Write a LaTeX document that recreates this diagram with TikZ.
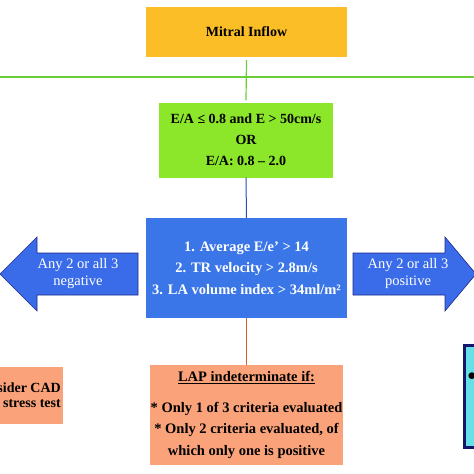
\documentclass[tikz,border=0pt]{standalone}
\usepackage{fontspec}
\setmainfont{Liberation Serif}
\usetikzlibrary{positioning}

\definecolor{mitralorange}{RGB}{251,190,38}
\definecolor{limegreen}{RGB}{140,230,42}
\definecolor{linegreen}{RGB}{105,205,60}
\definecolor{critblue}{RGB}{58,118,232}
\definecolor{arrowblue}{RGB}{58,108,234}
\definecolor{arrowedge}{RGB}{30,40,140}
\definecolor{lineblue}{RGB}{45,75,185}
\definecolor{salmon}{RGB}{250,162,122}
\definecolor{lineorange}{RGB}{215,95,45}
\definecolor{cyanfill}{RGB}{100,224,230}
\definecolor{navyedge}{RGB}{20,22,110}

\tikzset{
  box/.style={inner sep=0pt,align=center,font=\bfseries\fontsize{14}{21}\selectfont},
  bigbox/.style={box,font=\bfseries\fontsize{14.5}{21.5}\selectfont},
  arrowtext/.style={text=white,align=center,font=\fontsize{14.5}{17}\selectfont},
  sidearrow/.style={fill=arrowblue,draw=arrowedge,line width=0.6pt}
}

\begin{document}
\begin{tikzpicture}[x=1pt,y=-1pt]
  \useasboundingbox (0,0) rectangle (474,474);
  \clip (0,0) rectangle (474,474);
  % top: mitral inflow
  \node[box,fill=mitralorange,minimum width=201pt,minimum height=50pt] (mitral) at (246.5,32) {Mitral Inflow};
  \coordinate (gleft) at (0,77);
  \coordinate (gright) at (474,77);
  \draw[linegreen,line width=1.2pt] (gleft) -- (gright);
  % E/A criteria
  \node[box,fill=limegreen,minimum width=174pt,minimum height=75pt] (ea) at (246,140)
    {E/A ≤ 0.8 and E > 50cm/s\\OR\\E/A: 0.8 – 2.0};
  \draw[linegreen,line width=1.2pt] ([yshift=-3pt]mitral.south) -- ([yshift=2pt]ea.north);
  % three criteria
  \node[bigbox,fill=critblue,text=white,minimum width=201pt,minimum height=100pt] (crit) at (246.5,268)
    {1. Average E/e’ > 14\\2. TR velocity > 2.8m/s\\3. LA volume index > 34ml/m²};
  \draw[lineblue,line width=1pt] (ea.south) -- (crit.north);
  % side arrows
  \draw[sidearrow] (0,274) -- (37,237) -- (37,253) -- (138,253) -- (138,295)
    -- (37,295) -- (37,311) -- cycle;
  \node[arrowtext] (neg) at (78,274) {Any 2 or all 3\\negative};
  \draw[sidearrow] (476,274) -- (445,237) -- (445,253) -- (353,253) -- (353,295)
    -- (445,295) -- (445,311) -- cycle;
  \node[arrowtext] (pos) at (408,274) {Any 2 or all 3\\positive};
  % bottom boxes
  \node[bigbox,fill=salmon,minimum width=193pt,minimum height=100pt] (indet) at (246.5,415)
    {\underline{LAP indeterminate if:}\\[9pt]* Only 1 of 3 criteria evaluated\\
     * Only 2 criteria evaluated, of\\which only one is positive};
  \draw[lineorange,line width=1pt] (crit.south) -- (indet.north);
  \node[fill=salmon,minimum width=123pt,minimum height=57pt,inner sep=0pt] (cad) at (1.5,395.5) {};
  \node[box,align=right,anchor=east,font=\bfseries\fontsize{14}{15}\selectfont] (cadtext) at (61,395)
    {Consider CAD\\stress test\hspace{4pt}};
  \node[fill=cyanfill,draw=navyedge,line width=3pt,minimum width=60pt,minimum height=102pt,
    inner sep=0pt,anchor=west] (lapbox) at (463,396) {};
  \node[font=\fontsize{16}{16}\selectfont] (bullet) at (472,377) {$\bullet$};
\end{tikzpicture}
\end{document}
